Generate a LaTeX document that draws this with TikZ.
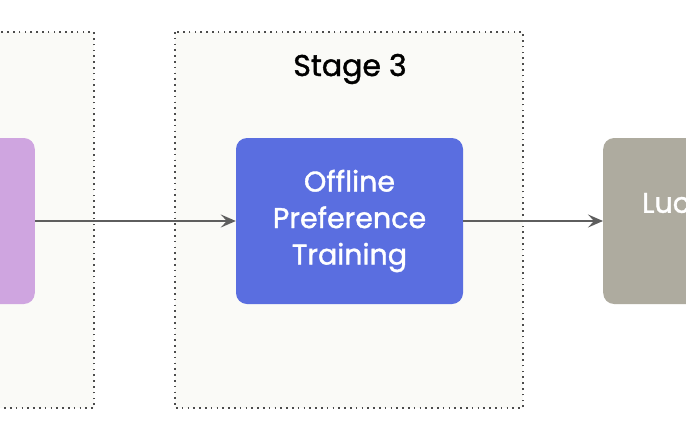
\documentclass[tikz,border=0pt]{standalone}
\usepackage{fontspec}
\setmainfont{Poppins}
\newfontfamily\medfont{Poppins}[FakeBold=1.3]
\usepackage{tikz}
\usetikzlibrary{arrows.meta}
\usepackage{xcolor}
\definecolor{stagebg}{HTML}{FAFAF7}
\definecolor{sftcol}{HTML}{CFA5E0}
\definecolor{prefcol}{HTML}{5A6EE0}
\definecolor{outcol}{HTML}{AEAB9F}
\definecolor{arrcol}{HTML}{5E5E5E}

\begin{document}
\begin{tikzpicture}[x=1pt,y=-1pt,
  stagebox/.style={fill=stagebg, draw=black!70, line width=1.1pt, dash pattern=on 1.6pt off 4.2pt},
  stepbox/.style={rounded corners=11pt, text=white, align=center, font=\medfont\fontsize{28.5}{36.5}\selectfont},
  flow/.style={draw=arrcol, line width=1.8pt, -{Stealth[length=15pt,width=13pt,inset=6pt]}}]
\useasboundingbox[fill=white] (0,0) rectangle (686,440);
% stage boxes
\draw [stagebox] (-20,32) rectangle (94,408);
\draw [stagebox] (175,32) rectangle (523,408);
\node (stagetitle) at (350,69) {\medfont\fontsize{30}{32}\selectfont Stage 3};
% steps
\node [stepbox, fill=sftcol, minimum width=200pt, minimum height=166pt, anchor=east] (sft) at (35,221) {};
\node [stepbox, fill=prefcol, minimum width=227pt, minimum height=166pt] (pref) at (349.5,221) {Offline\\Preference\\Training};
\node [stepbox, fill=outcol, minimum width=200pt, minimum height=166pt, anchor=west] (out) at (603,221) {};
\node [text=white, font=\medfont\fontsize{28.5}{36.5}\selectfont, anchor=west, inner sep=0pt] (outlabel) at (642,203) {Luc};
% arrows
\draw [flow] (sft) -- (pref);
\draw [flow] (pref) -- (out);
\end{tikzpicture}
\end{document}
